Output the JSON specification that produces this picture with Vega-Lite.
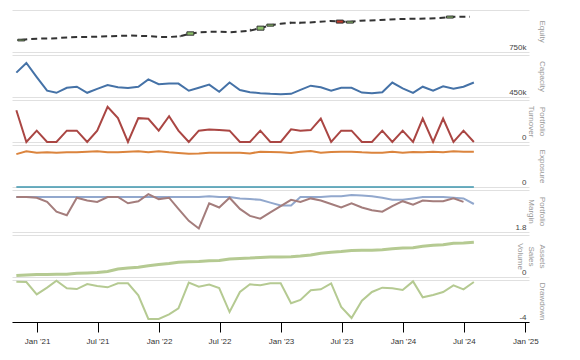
{
  "$schema": "https://vega.github.io/schema/vega-lite/v6.json",
  "padding": {"left": 10, "top": 10, "right": 5, "bottom": 5},
  "background": "white",
  "spacing": 3,
  "bounds": "flush",
  "config": {
    "view": {"stroke": null},
    "font": "Liberation Sans",
    "axisY": {
      "grid": true, "gridColor": "#e0e0e0", "gridWidth": 1,
      "domain": false, "ticks": false,
      "labelAlign": "right", "labelBaseline": "bottom", "labelPadding": -3, "labelOffset": -1,
      "labelFontSize": 8, "labelColor": "#444", "labelFont": "Liberation Sans",
      "titleAngle": 90, "titleBaseline": "bottom", "titleAlign": "center",
      "titleX": 8.5, "titleY": 21, "titleFontSize": 8, "titleColor": "#999",
      "titleFontWeight": "normal", "titleLineHeight": 11, "titleFont": "Liberation Sans"
    },
    "axisX": {
      "grid": false, "domainColor": "#000", "tickColor": "#000", "tickSize": 10,
      "labelFontSize": 8, "labelColor": "#333", "labelPadding": 5, "labelFlush": false,
      "labelFont": "Liberation Sans"
    }
  },
  "datasets": {
    "m": [
      {"d":"2020-10-31","eq":822000,"cap":566000,"to":2.8,"exp":0.94,"hedge":0,"mb":2.30,"mr":2.30,"vol":3.3,"dd":-0.16},
      {"d":"2020-11-30","eq":828000,"cap":612000,"to":0,"exp":1.02,"hedge":0,"mb":2.30,"mr":2.30,"vol":4.9,"dd":-0.19},
      {"d":"2020-12-31","eq":830000,"cap":545000,"to":1.0,"exp":0.98,"hedge":0,"mb":2.30,"mr":2.29,"vol":5.7,"dd":-1.37},
      {"d":"2021-01-31","eq":830000,"cap":480000,"to":0,"exp":0.99,"hedge":0,"mb":2.30,"mr":2.23,"vol":5.7,"dd":-0.73},
      {"d":"2021-02-28","eq":834000,"cap":470000,"to":0,"exp":0.98,"hedge":0,"mb":2.30,"mr":2.09,"vol":6.6,"dd":-0.06},
      {"d":"2021-03-31","eq":838000,"cap":494000,"to":1.0,"exp":0.99,"hedge":0,"mb":2.30,"mr":2.04,"vol":6.6,"dd":-0.79},
      {"d":"2021-04-30","eq":840000,"cap":499000,"to":1.0,"exp":0.99,"hedge":0,"mb":2.30,"mr":2.29,"vol":9.0,"dd":-0.86},
      {"d":"2021-05-31","eq":840000,"cap":470000,"to":0,"exp":1.01,"hedge":0,"mb":2.30,"mr":2.25,"vol":9.8,"dd":-0.38},
      {"d":"2021-06-30","eq":842000,"cap":489000,"to":1.0,"exp":1.02,"hedge":0,"mb":2.30,"mr":2.23,"vol":10.7,"dd":-0.57},
      {"d":"2021-07-31","eq":844000,"cap":507000,"to":3.1,"exp":0.99,"hedge":0,"mb":2.30,"mr":2.30,"vol":13.1,"dd":-0.70},
      {"d":"2021-08-31","eq":846000,"cap":496000,"to":2.1,"exp":0.99,"hedge":0,"mb":2.30,"mr":2.30,"vol":18.9,"dd":-0.32},
      {"d":"2021-09-30","eq":848000,"cap":493000,"to":0,"exp":1.01,"hedge":0,"mb":2.30,"mr":2.21,"vol":21.3,"dd":-0.32},
      {"d":"2021-10-31","eq":846000,"cap":499000,"to":2.1,"exp":1.02,"hedge":0,"mb":2.30,"mr":2.24,"vol":23.0,"dd":-1.46},
      {"d":"2021-11-30","eq":844000,"cap":534000,"to":2.05,"exp":0.99,"hedge":0,"mb":2.30,"mr":2.34,"vol":27.0,"dd":-3.71},
      {"d":"2021-12-31","eq":840000,"cap":511000,"to":1.0,"exp":1.02,"hedge":0,"mb":2.30,"mr":2.27,"vol":29.5,"dd":-3.71},
      {"d":"2022-01-31","eq":840000,"cap":514000,"to":2.27,"exp":0.99,"hedge":0,"mb":2.30,"mr":2.29,"vol":32.0,"dd":-3.27},
      {"d":"2022-02-28","eq":844000,"cap":514000,"to":1.0,"exp":0.97,"hedge":0,"mb":2.30,"mr":2.13,"vol":35.2,"dd":-2.70},
      {"d":"2022-03-31","eq":860000,"cap":480000,"to":0,"exp":0.95,"hedge":0,"mb":2.30,"mr":1.96,"vol":36.1,"dd":-0.25},
      {"d":"2022-04-30","eq":868000,"cap":494000,"to":1.0,"exp":0.96,"hedge":0,"mb":2.30,"mr":1.85,"vol":36.9,"dd":-0.63},
      {"d":"2022-05-31","eq":870000,"cap":509000,"to":1.1,"exp":0.98,"hedge":0,"mb":2.31,"mr":2.21,"vol":38.5,"dd":-0.44},
      {"d":"2022-06-30","eq":870000,"cap":475000,"to":1.05,"exp":0.98,"hedge":0,"mb":2.30,"mr":2.15,"vol":39.3,"dd":-0.76},
      {"d":"2022-07-31","eq":868000,"cap":519000,"to":1.0,"exp":0.98,"hedge":0,"mb":2.30,"mr":2.29,"vol":42.6,"dd":-3.05},
      {"d":"2022-08-31","eq":872000,"cap":483000,"to":0,"exp":0.98,"hedge":0,"mb":2.28,"mr":2.13,"vol":44.3,"dd":-1.14},
      {"d":"2022-09-30","eq":878000,"cap":473000,"to":0,"exp":0.96,"hedge":0,"mb":2.27,"mr":2.03,"vol":45.1,"dd":-0.41},
      {"d":"2022-10-31","eq":892000,"cap":468000,"to":1.0,"exp":1.01,"hedge":0,"mb":2.26,"mr":1.99,"vol":46.7,"dd":-0.51},
      {"d":"2022-11-30","eq":910000,"cap":465000,"to":0,"exp":1.00,"hedge":0,"mb":2.22,"mr":2.08,"vol":47.5,"dd":-0.32},
      {"d":"2022-12-31","eq":918000,"cap":463000,"to":0,"exp":0.99,"hedge":0,"mb":2.18,"mr":2.17,"vol":47.5,"dd":-0.32},
      {"d":"2023-01-31","eq":924000,"cap":465000,"to":1.12,"exp":0.97,"hedge":0,"mb":2.18,"mr":2.26,"vol":48.4,"dd":-2.22},
      {"d":"2023-02-28","eq":924000,"cap":484000,"to":1.0,"exp":1.01,"hedge":0,"mb":2.30,"mr":2.23,"vol":50.0,"dd":-1.90},
      {"d":"2023-03-31","eq":926000,"cap":504000,"to":1.05,"exp":1.03,"hedge":0,"mb":2.30,"mr":2.28,"vol":52.5,"dd":-0.98},
      {"d":"2023-04-30","eq":930000,"cap":496000,"to":2.06,"exp":0.98,"hedge":0,"mb":2.30,"mr":2.25,"vol":56.6,"dd":-0.89},
      {"d":"2023-05-31","eq":934000,"cap":480000,"to":0,"exp":1.00,"hedge":0,"mb":2.31,"mr":2.20,"vol":59.0,"dd":-0.32},
      {"d":"2023-06-30","eq":932000,"cap":494000,"to":1.0,"exp":1.01,"hedge":0,"mb":2.31,"mr":2.15,"vol":60.7,"dd":-2.57},
      {"d":"2023-07-31","eq":928000,"cap":494000,"to":1.0,"exp":1.01,"hedge":0,"mb":2.33,"mr":2.21,"vol":63.1,"dd":-3.62},
      {"d":"2023-08-31","eq":936000,"cap":471000,"to":0,"exp":0.99,"hedge":0,"mb":2.32,"mr":2.15,"vol":63.9,"dd":-1.97},
      {"d":"2023-09-30","eq":938000,"cap":468000,"to":0,"exp":0.98,"hedge":0,"mb":2.31,"mr":2.11,"vol":63.9,"dd":-1.14},
      {"d":"2023-10-31","eq":940000,"cap":473000,"to":1.0,"exp":0.98,"hedge":0,"mb":2.29,"mr":2.09,"vol":64.8,"dd":-0.73},
      {"d":"2023-11-30","eq":944000,"cap":519000,"to":0,"exp":1.01,"hedge":0,"mb":2.26,"mr":2.17,"vol":67.2,"dd":-0.79},
      {"d":"2023-12-31","eq":946000,"cap":491000,"to":1.0,"exp":0.98,"hedge":0,"mb":2.26,"mr":2.24,"vol":68.9,"dd":-0.95},
      {"d":"2024-01-31","eq":948000,"cap":470000,"to":0,"exp":1.00,"hedge":0,"mb":2.28,"mr":2.19,"vol":69.7,"dd":-0.13},
      {"d":"2024-02-29","eq":948000,"cap":499000,"to":2.06,"exp":0.99,"hedge":0,"mb":2.30,"mr":2.25,"vol":73.0,"dd":-1.65},
      {"d":"2024-03-31","eq":950000,"cap":480000,"to":0,"exp":1.01,"hedge":0,"mb":2.30,"mr":2.24,"vol":75.4,"dd":-1.43},
      {"d":"2024-04-30","eq":952000,"cap":501000,"to":2.06,"exp":0.99,"hedge":0,"mb":2.30,"mr":2.24,"vol":77.0,"dd":-1.14},
      {"d":"2024-05-31","eq":958000,"cap":489000,"to":0,"exp":1.02,"hedge":0,"mb":2.29,"mr":2.28,"vol":80.3,"dd":-0.51},
      {"d":"2024-06-30","eq":960000,"cap":499000,"to":1.0,"exp":1.01,"hedge":0,"mb":2.28,"mr":2.23,"vol":81.1,"dd":-0.89},
      {"d":"2024-07-31","eq":960000,"cap":519000,"to":0,"exp":1.01,"hedge":0,"mb":2.20,"mr":null,"vol":82.8,"dd":-0.19}
    ],
    "box": [
      {"d":"2020-10-31","lo":816000,"hi":826000,"dir":"up"},
      {"d":"2022-03-31","lo":850000,"hi":870000,"dir":"up"},
      {"d":"2022-10-31","lo":880000,"hi":904000,"dir":"up"},
      {"d":"2022-11-30","lo":904000,"hi":916000,"dir":"up"},
      {"d":"2023-06-30","lo":922000,"hi":940000,"dir":"down"},
      {"d":"2023-07-31","lo":922000,"hi":934000,"dir":"up"},
      {"d":"2024-05-31","lo":952000,"hi":964000,"dir":"up"}
    ],
    "tick": [
      {"d":"2022-02-28","lo":838000,"hi":850000},
      {"d":"2022-09-30","lo":872000,"hi":888000},
      {"d":"2023-01-31","lo":916000,"hi":930000},
      {"d":"2023-02-28","lo":916000,"hi":930000}
    ]
  },
  "resolve": {"scale": {"y": "independent"}},
  "vconcat": [
    {
      "width": 517, "height": 42,
      "layer": [
        {
          "data": {"name": "m"},
          "mark": {"type": "line", "color": "#333", "strokeWidth": 2, "strokeDash": [6, 4]},
          "encoding": {
            "x": {"field": "d", "type": "temporal", "scale": {"type": "utc", "domain": [{"year": 2020, "month": 10, "date": 18, "utc": true}, {"year": 2025, "month": 1, "date": 12, "utc": true}]}, "axis": null},
            "y": {"field": "eq", "type": "quantitative", "scale": {"domain": [750000, 1000000], "zero": false, "nice": false},
                  "axis": {"orient": "right", "values": [750000, 1000000], "labelExpr": "datum.value == 750000 ? '750k' : ''", "title": "Equity"}}
          }
        },
        {
          "data": {"name": "tick"},
          "mark": {"type": "rule", "color": "#333", "strokeWidth": 1},
          "encoding": {
            "x": {"field": "d", "type": "temporal"},
            "y": {"field": "lo", "type": "quantitative"},
            "y2": {"field": "hi"}
          }
        },
        {
          "data": {"name": "box"},
          "mark": {"type": "bar", "size": 7, "stroke": "#333", "strokeWidth": 1},
          "encoding": {
            "x": {"field": "d", "type": "temporal"},
            "y": {"field": "lo", "type": "quantitative"},
            "y2": {"field": "hi"},
            "color": {"field": "dir", "type": "nominal", "scale": {"domain": ["up", "down"], "range": ["#8cc06a", "#c0392b"]}, "legend": null}
          }
        }
      ]
    },
    {
      "width": 517, "height": 42,
      "data": {"name": "m"},
      "mark": {"type": "line", "color": "#4572A7", "strokeWidth": 2},
      "encoding": {
        "x": {"field": "d", "type": "temporal", "scale": {"type": "utc", "domain": [{"year": 2020, "month": 10, "date": 18, "utc": true}, {"year": 2025, "month": 1, "date": 12, "utc": true}]}, "axis": null},
        "y": {"field": "cap", "type": "quantitative", "scale": {"domain": [450000, 650000], "zero": false, "nice": false},
              "axis": {"orient": "right", "values": [450000, 650000], "labelExpr": "datum.value == 450000 ? '450k' : ''", "title": "Capacity"}}
      }
    },
    {
      "width": 517, "height": 42,
      "data": {"name": "m"},
      "mark": {"type": "line", "color": "#AA4643", "strokeWidth": 2},
      "encoding": {
        "x": {"field": "d", "type": "temporal", "scale": {"type": "utc", "domain": [{"year": 2020, "month": 10, "date": 18, "utc": true}, {"year": 2025, "month": 1, "date": 12, "utc": true}]}, "axis": null},
        "y": {"field": "to", "type": "quantitative", "scale": {"domain": [0, 3.7], "nice": false},
              "axis": {"orient": "right", "values": [0, 3.7], "labelExpr": "datum.value == 0 ? '0' : ''", "title": ["Portfolio", "Turnover"]}}
      }
    },
    {
      "width": 517, "height": 42,
      "data": {"name": "m"},
      "layer": [
        {
          "mark": {"type": "line", "color": "#3D96AE", "strokeWidth": 1.5},
          "encoding": {
            "x": {"field": "d", "type": "temporal", "scale": {"type": "utc", "domain": [{"year": 2020, "month": 10, "date": 18, "utc": true}, {"year": 2025, "month": 1, "date": 12, "utc": true}]}, "axis": null},
            "y": {"field": "hedge", "type": "quantitative", "scale": {"domain": [0, 1.2], "nice": false},
                  "axis": {"orient": "right", "values": [0, 1.2], "labelExpr": "datum.value == 0 ? '0' : ''", "title": "Exposure"}}
          }
        },
        {
          "mark": {"type": "line", "color": "#DB843D", "strokeWidth": 2},
          "encoding": {
            "x": {"field": "d", "type": "temporal"},
            "y": {"field": "exp", "type": "quantitative"}
          }
        }
      ]
    },
    {
      "width": 517, "height": 42,
      "data": {"name": "m"},
      "layer": [
        {
          "mark": {"type": "line", "color": "#92A8CD", "strokeWidth": 2},
          "encoding": {
            "x": {"field": "d", "type": "temporal", "scale": {"type": "utc", "domain": [{"year": 2020, "month": 10, "date": 18, "utc": true}, {"year": 2025, "month": 1, "date": 12, "utc": true}]}, "axis": null},
            "y": {"field": "mb", "type": "quantitative", "scale": {"domain": [1.8, 2.4], "zero": false, "nice": false},
                  "axis": {"orient": "right", "values": [1.8, 2.4], "labelExpr": "datum.value == 1.8 ? '1.8' : ''", "title": ["Portfolio", "Margin"]}}
          }
        },
        {
          "mark": {"type": "line", "color": "#A47D7C", "strokeWidth": 2},
          "encoding": {
            "x": {"field": "d", "type": "temporal"},
            "y": {"field": "mr", "type": "quantitative"}
          }
        }
      ]
    },
    {
      "width": 517, "height": 42,
      "data": {"name": "m"},
      "mark": {"type": "line", "color": "#B5CA92", "strokeWidth": 3},
      "encoding": {
        "x": {"field": "d", "type": "temporal", "scale": {"type": "utc", "domain": [{"year": 2020, "month": 10, "date": 18, "utc": true}, {"year": 2025, "month": 1, "date": 12, "utc": true}]}, "axis": null},
        "y": {"field": "vol", "type": "quantitative", "scale": {"domain": [0, 100], "nice": false},
              "axis": {"orient": "right", "values": [0, 100], "labelExpr": "datum.value == 0 ? '0' : ''", "title": ["Assets", "Sales", "Volume"]}}
      }
    },
    {
      "width": 517, "height": 42,
      "data": {"name": "m"},
      "mark": {"type": "line", "color": "#B5CA92", "strokeWidth": 2},
      "encoding": {
        "x": {"field": "d", "type": "temporal", "scale": {"type": "utc", "domain": [{"year": 2020, "month": 10, "date": 18, "utc": true}, {"year": 2025, "month": 1, "date": 12, "utc": true}]},
              "axis": {"format": "%b '%y", "tickCount": {"interval": "month", "step": 6}, "title": null}},
        "y": {"field": "dd", "type": "quantitative", "scale": {"domain": [-4, 0], "nice": false},
              "axis": {"orient": "right", "values": [-4, 0], "labelExpr": "datum.value == -4 ? '-4' : ''", "title": "Drawdown"}}
      }
    }
  ]
}
